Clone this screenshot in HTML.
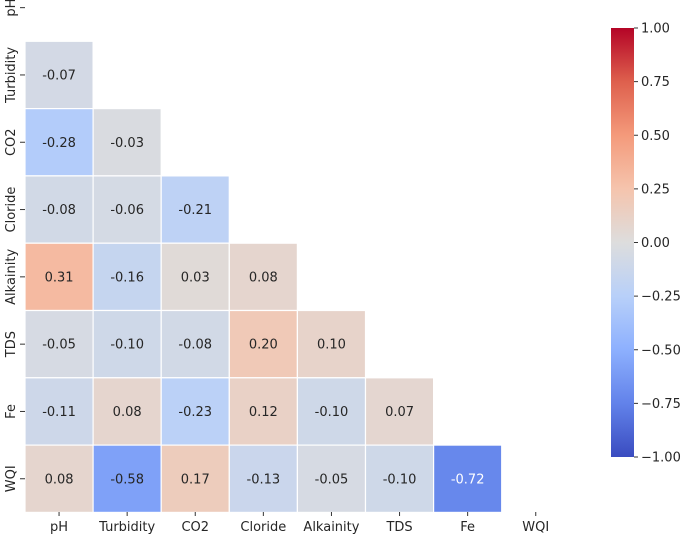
<!DOCTYPE html>
<html><head><meta charset="utf-8"><style>
html,body{margin:0;padding:0;background:#fff;}
svg{display:block;font-family:"DejaVu Sans","Liberation Sans",sans-serif;}
</style></head><body>
<svg id="chart" width="685" height="536" viewBox="0 0 685 536" xmlns="http://www.w3.org/2000/svg">
<defs>
<linearGradient id="cbgrad" x1="0" y1="1" x2="0" y2="0">
<stop offset="0" stop-color="rgb(58,76,192)"/>
<stop offset="0.125" stop-color="rgb(98,130,234)"/>
<stop offset="0.25" stop-color="rgb(141,176,254)"/>
<stop offset="0.375" stop-color="rgb(184,208,249)"/>
<stop offset="0.5" stop-color="rgb(221,221,221)"/>
<stop offset="0.625" stop-color="rgb(245,196,173)"/>
<stop offset="0.75" stop-color="rgb(244,154,123)"/>
<stop offset="0.875" stop-color="rgb(222,96,77)"/>
<stop offset="1" stop-color="rgb(180,4,38)"/>
</linearGradient>
</defs>
<g id="cells"></g>
<g id="axes"></g>
<rect x="611" y="28" width="23" height="429" fill="url(#cbgrad)"/>
<g id="cbticks"></g>
</svg>
<script>
const labels = ["pH","Turbidity","CO2","Cloride","Alkainity","TDS","Fe","WQI"];
const corrRows = [
  [],
  [-0.07],
  [-0.28,-0.03],
  [-0.08,-0.06,-0.21],
  [0.31,-0.16,0.03,0.08],
  [-0.05,-0.10,-0.08,0.20,0.10],
  [-0.11,0.08,-0.23,0.12,-0.10,0.07],
  [0.08,-0.58,0.17,-0.13,-0.05,-0.10,-0.72]
];
const cbTicks = [1.00,0.75,0.50,0.25,0.00,-0.25,-0.50,-0.75,-1.00];

const X0=25, CW=68.1, Y0=-26, CH=67.3;
const xPos = i => X0 + i*CW;
const yPos = j => Y0 + j*CH;
const CB_TOP=28, CB_BOT=457;
const cbY = v => CB_BOT - (v+1)/2*(CB_BOT-CB_TOP);
const stops=[[58,76,192],[98,130,234],[141,176,254],[184,208,249],[221,221,221],[245,196,173],[244,154,123],[222,96,77],[180,4,38]];
function cmap(v){
  let t=(v+1)/2*8; let i=Math.min(7,Math.floor(t)); let f=t-i;
  const a=stops[i],b=stops[i+1];
  return 'rgb('+a.map((c,k)=>Math.round(c+(b[k]-c)*f)).join(',')+')';
}
const NS="http://www.w3.org/2000/svg";
const cells=document.getElementById('cells'), axes=document.getElementById('axes'), cbt=document.getElementById('cbticks');
function mk(tag,attrs,parent){const e=document.createElementNS(NS,tag);for(const k in attrs)e.setAttribute(k,attrs[k]);parent.appendChild(e);return e;}
corrRows.forEach((row,j)=>{
  row.forEach((v,i)=>{
    const r=mk('rect',{x:xPos(i),y:yPos(j),width:CW,height:CH,fill:cmap(v),stroke:'#fff','stroke-width':1.2},cells);
    
    
    const t=mk('text',{x:xPos(i)+CW/2,y:yPos(j)+CH/2+4.5,'text-anchor':'middle','font-size':13,fill:Math.abs(v)>0.65?'#fff':'#262626'},cells);
    t.textContent=v.toFixed(2);
    
    
  });
});
labels.forEach((lab,i)=>{
  const cx=xPos(i)+CW/2;
  mk('line',{x1:cx,y1:512,x2:cx,y2:516,stroke:'#333','stroke-width':1},axes);
  const t=mk('text',{x:cx,y:531,'text-anchor':'middle','font-size':13,fill:'#262626'},axes);
  t.textContent=lab;
  
  
  const cy=yPos(i)+CH/2;
  mk('line',{x1:20,y1:cy,x2:25,y2:cy,stroke:'#333','stroke-width':1},axes);
  const ty=mk('text',{x:0,y:0,'text-anchor':'middle','font-size':13,fill:'#262626',transform:'translate(15,'+cy+') rotate(-90)'},axes);
  ty.textContent=lab;
  
  
});
cbTicks.forEach(v=>{
  const y=cbY(v);
  mk('line',{x1:634,y1:y,x2:638,y2:y,stroke:'#333','stroke-width':1},cbt);
  const t=mk('text',{x:641,y:y+4.5,'font-size':13,fill:'#262626'},cbt);
  t.textContent=(v<0?'\u2212':'')+Math.abs(v).toFixed(2);
  
  
});
</script>
</body></html>
